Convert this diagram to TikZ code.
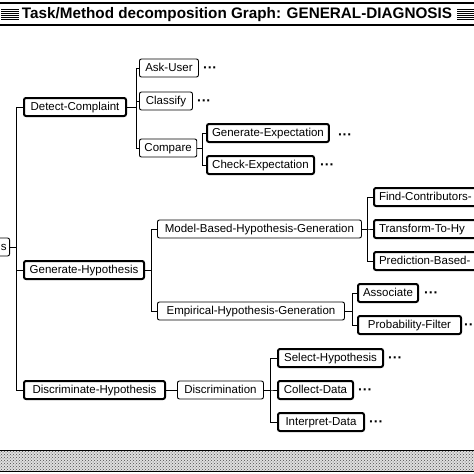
\documentclass[tikz,border=0pt]{standalone}
\usepackage{fontspec}
\setmainfont{Liberation Sans}
\usetikzlibrary{patterns}
\newcommand{\tmnodefont}{\fontsize{11.5}{13}\selectfont}
\newcommand{\tmdotfont}{\fontsize{14}{14}\selectfont\bfseries}
\begin{document}
\begin{tikzpicture}[x=1pt,y=-1pt,
  box/.style={draw, rounded corners=2pt, minimum height=18pt, inner xsep=5pt, inner ysep=0pt,
    anchor=west, font=\tmnodefont, text height=8.5pt, text depth=2.5pt},
  thinbox/.style={box, line width=0.9pt},
  thickbox/.style={box, line width=2pt},
  conn/.style={line width=1pt},
  more/.style={anchor=west, inner sep=0pt, font=\tmdotfont, text height=9.2pt, text depth=0pt},
  stripe/.style={line width=0.8pt}]
\useasboundingbox (0,0) rectangle (474,474);
\clip (0,0) rectangle (474,474);
\fill[white] (0,0) rectangle (474,474);

% title bar
\draw[line width=1.3pt] (0,3) -- (474,3);
\draw[line width=1.3pt] (0,25) -- (474,25);
\foreach \yy in {9,11,13,15,17,19} {
  \draw[stripe] (1,\yy) -- (19,\yy);
  \draw[stripe] (457,\yy) -- (474,\yy);
}
\node[inner sep=0pt] (title) at (237,14.5) {\resizebox{430pt}{!}{\bfseries Task/Method decomposition Graph: GENERAL-DIAGNOSIS}};

% bottom scroll bar
\fill[gray!25] (-2,450) rectangle (476,471);
\fill[pattern=crosshatch dots, pattern color=black!70] (-2,450) rectangle (476,471);
\draw[line width=1pt] (-2,450) rectangle (476,471);

% bus coordinates
\coordinate (busA) at (16,0);
\coordinate (busB) at (136,0);
\coordinate (busC) at (202,0);
\coordinate (busD) at (151,0);
\coordinate (busE) at (367,0);
\coordinate (busF) at (352,0);
\coordinate (busG) at (270,0);

% nodes
\node[thinbox, anchor=east, text width=30pt, align=right, inner xsep=3pt] (gd) at (10,247) {s};

\node[thickbox, minimum width=102pt] (dc) at (23,107) {Detect-Complaint};
\node[thinbox, minimum width=59pt] (au) at (139,68) {Ask-User};
\node[thinbox, minimum width=53pt] (cl) at (139,101) {Classify};
\node[thinbox, minimum width=55pt] (cp) at (139,148) {Compare};
\node[thickbox, minimum width=121pt] (ge) at (206,133) {Generate-Expectation};
\node[thickbox, minimum width=107pt] (ce) at (206,165) {Check-Expectation};

\node[thickbox, minimum width=120pt] (gh) at (23,270) {Generate-Hypothesis};
\node[thinbox, minimum width=204pt] (mb) at (157,229) {Model-Based-Hypothesis-Generation};
\node[thinbox, minimum width=187pt] (eh) at (157,311) {Empirical-Hypothesis-Generation};
\node[thickbox, text width=150pt, align=left] (fc) at (373,197) {Find-Contributors-};
\node[thickbox, text width=150pt, align=left] (th) at (373,229) {Transform-To-Hy};
\node[thickbox, text width=150pt, align=left] (pb) at (373,261) {Prediction-Based-};
\node[thickbox, minimum width=60pt] (as) at (357,293) {Associate};
\node[thickbox, minimum width=103pt] (pf) at (357,325) {Probability-Filter};

\node[thickbox, minimum width=141pt] (dh) at (23,390) {Discriminate-Hypothesis};
\node[thinbox, minimum width=86pt] (di) at (177,390) {Discrimination};
\node[thickbox, minimum width=105pt] (sh) at (277,358) {Select-Hypothesis};
\node[thickbox, minimum width=75pt] (cd) at (277,390) {Collect-Data};
\node[thickbox, minimum width=86pt] (id) at (277,422) {Interpret-Data};

% more markers
\node[more] (m1) at ([xshift=4pt]au.east) {···};
\node[more] (m2) at ([xshift=4pt]cl.east) {···};
\node[more] (m3) at ([xshift=8pt,yshift=-2pt]ge.east) {···};
\node[more] (m4) at ([xshift=5pt]ce.east) {···};
\node[more] (m5) at ([xshift=5pt]as.east) {···};
\node[more] (m6) at ([xshift=2pt]pf.east) {···};
\node[more] (m7) at ([xshift=4pt]sh.east) {···};
\node[more] (m8) at ([xshift=4pt]cd.east) {···};
\node[more] (m9) at ([xshift=4pt]id.east) {···};

% connectors
\foreach \c in {dc,gh,dh} \draw[conn] (gd.east) -- (gd.east -| busA) |- (\c.west);
\foreach \c in {au,cl,cp} \draw[conn] (dc.east) -- (dc.east -| busB) |- (\c.west);
\foreach \c in {ge,ce} \draw[conn] (cp.east) -- (cp.east -| busC) |- (\c.west);
\foreach \c in {mb,eh} \draw[conn] (gh.east) -- (gh.east -| busD) |- (\c.west);
\foreach \c in {fc,th,pb} \draw[conn] (mb.east) -- (mb.east -| busE) |- (\c.west);
\foreach \c in {as,pf} \draw[conn] (eh.east) -- (eh.east -| busF) |- (\c.west);
\draw[conn] (dh.east) -- (di.west);
\foreach \c in {sh,cd,id} \draw[conn] (di.east) -- (di.east -| busG) |- (\c.west);
\end{tikzpicture}
\end{document}
